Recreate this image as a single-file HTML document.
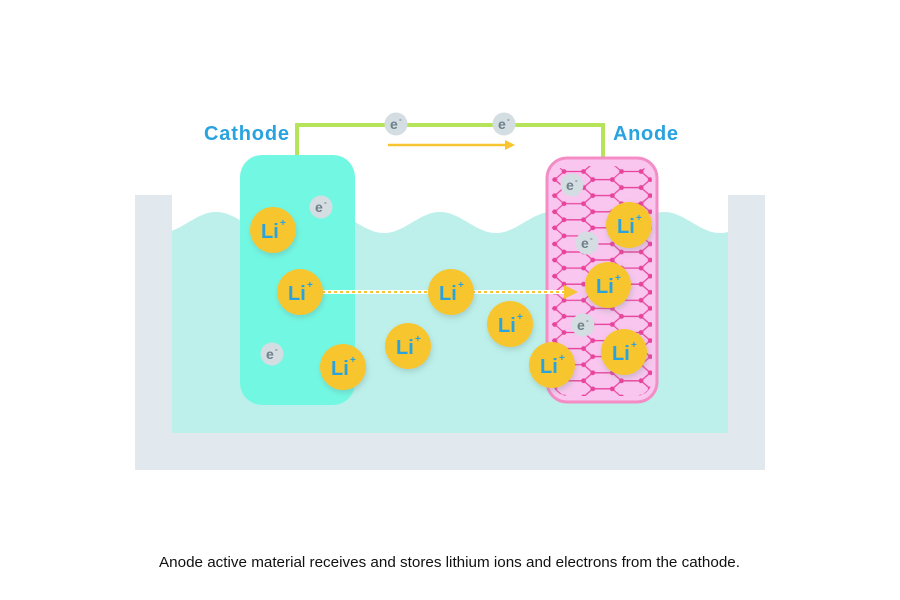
<!DOCTYPE html>
<html><head><meta charset="utf-8"><style>
html,body{margin:0;padding:0;background:#fff;width:900px;height:600px;overflow:hidden}
svg{display:block}
</style></head><body>
<svg id="s" width="900" height="600" viewBox="0 0 900 600" xmlns="http://www.w3.org/2000/svg">
<defs>
<pattern id="hex" patternUnits="userSpaceOnUse" width="50" height="28" x="552" y="170" patternTransform="translate(-80,-24) scale(1.15)">
<g fill="none" stroke="#e8449c" stroke-width="1">
<path d="M0,7 L8,0 L25,0 L33,7 L25,14 L8,14 Z"/>
<path d="M0,21 L8,14 L25,14 L33,21 L25,28 L8,28 Z"/>
<path d="M25,14 L33,7 L50,7 L58,14 L50,21 L33,21 Z"/>
<path d="M25,0 L33,-7 L50,-7 L58,0 L50,7 L33,7 Z"/>
<path d="M25,28 L33,21 L50,21 L58,28 L50,35 L33,35 Z"/>
<path d="M-25,14 L-17,7 L0,7 L8,14 L0,21 L-17,21 Z"/>
</g>
<g fill="#e8449c">
<circle cx="0" cy="7" r="2.1"/><circle cx="8" cy="0" r="2.1"/><circle cx="25" cy="0" r="2.1"/>
<circle cx="33" cy="7" r="2.1"/><circle cx="8" cy="14" r="2.1"/><circle cx="25" cy="14" r="2.1"/>
<circle cx="0" cy="21" r="2.1"/><circle cx="33" cy="21" r="2.1"/><circle cx="50" cy="7" r="2.1"/><circle cx="50" cy="21" r="2.1"/>
<circle cx="8" cy="28" r="2.1"/><circle cx="25" cy="28" r="2.1"/><circle cx="0" cy="35" r="2.1"/>
</g>
</pattern>
<filter id="sh" x="-30%" y="-30%" width="170%" height="170%"><feDropShadow dx="1" dy="3" stdDeviation="3" flood-color="#6a8a90" flood-opacity="0.3"/></filter>
<clipPath id="ac"><rect x="552" y="166" width="100" height="230" rx="16"/></clipPath>
</defs>
<rect x="135" y="195" width="37" height="275" fill="#e1e8ee"/>
<rect x="728" y="195" width="37" height="275" fill="#e1e8ee"/>
<rect x="135" y="433" width="630" height="37" fill="#e1e8ee"/>
<path id="wave" fill="#bdf0ea" d=""/>
<path d="M297,157 V125 H603 V157" fill="none" stroke="#b5e35a" stroke-width="4"/>
<line x1="388" y1="145" x2="508" y2="145" stroke="#f7c52f" stroke-width="2.5"/>
<path d="M505,140 L515,145 L505,150 Z" fill="#f7c52f"/>
<rect x="240" y="155" width="115" height="250" rx="22" fill="#72f8e2"/>
<rect x="547" y="158" width="110" height="244" rx="20" fill="#f8c6ee" stroke="#f48cc6" stroke-width="3"/>
<rect x="548" y="159" width="108" height="242" fill="url(#hex)" clip-path="url(#ac)"/>
<line x1="322" y1="292" x2="565" y2="292" stroke="#fff" stroke-width="4"/>
<line x1="322" y1="292" x2="565" y2="292" stroke="#f7c52f" stroke-width="2" stroke-dasharray="3,3"/>
<path d="M564,285 L578,292 L564,299 Z" fill="#f7c52f"/>
<text x="204" y="140" font-family="Liberation Sans, sans-serif" font-weight="bold" font-size="20" fill="#29a3e0" textLength="85">Cathode</text>
<text x="613" y="140" font-family="Liberation Sans, sans-serif" font-weight="bold" font-size="20" fill="#29a3e0" textLength="65">Anode</text>
<g id="parts"></g>
<text x="159" y="567" font-family="Liberation Sans, sans-serif" font-size="15" fill="#111" textLength="581" lengthAdjust="spacingAndGlyphs">Anode active material receives and stores lithium ions and electrons from the cathode.</text>
</svg>
<script>
var d="M172,433";
for(var x=172;x<=728;x++){d+=" L"+x+","+(222.5-10.5*Math.cos(2*Math.PI*(x-440)/112)).toFixed(1);}
d+=" L728,433 Z";
document.getElementById('wave').setAttribute('d',d);
var g=document.getElementById('parts'),h="";
[[321,207],[272,354],[396,124],[504,124],[572,185],[587,243],[583,325]].forEach(function(p){
h+='<circle cx="'+p[0]+'" cy="'+p[1]+'" r="11.5" fill="#d3dde2"/><text x="'+(p[0]-6)+'" y="'+(p[1]+5)+'" font-family="Liberation Sans, sans-serif" font-weight="bold" font-size="14" fill="#6e8088">e</text><text x="'+(p[0]+3)+'" y="'+(p[1]-2)+'" font-family="Liberation Sans, sans-serif" font-weight="bold" font-size="8" fill="#6e8088">-</text>';});
[[273,230],[300,292],[343,367],[408,346],[451,292],[510,324],[629,225],[608,285],[552,365],[624,352]].forEach(function(p){
h+='<circle cx="'+p[0]+'" cy="'+p[1]+'" r="23" fill="#f7c52f" filter="url(#sh)"/><text x="'+(p[0]-12)+'" y="'+(p[1]+8)+'" font-family="Liberation Sans, sans-serif" font-weight="bold" font-size="20" fill="#29a3e0">Li</text><text x="'+(p[0]+7)+'" y="'+(p[1]-4)+'" font-family="Liberation Sans, sans-serif" font-weight="bold" font-size="10" fill="#29a3e0">+</text>';});
g.innerHTML=h;
</script>
</body></html>
